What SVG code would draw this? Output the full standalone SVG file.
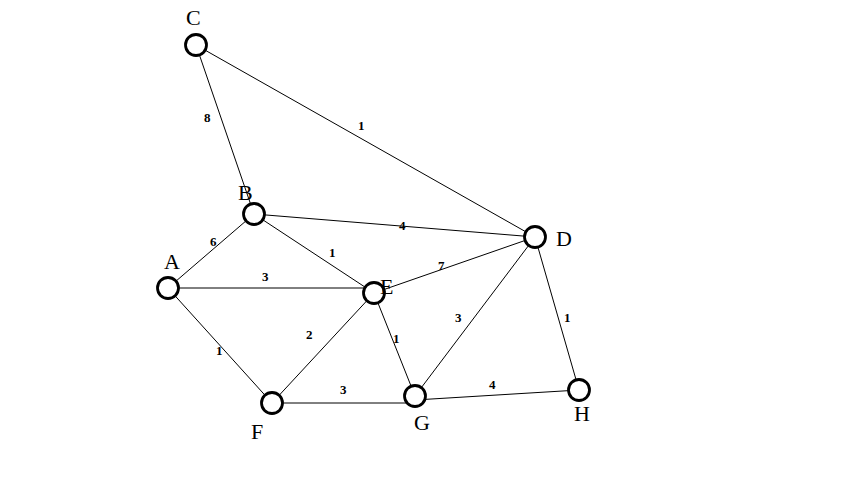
<svg xmlns="http://www.w3.org/2000/svg" width="848" height="488" viewBox="0 0 848 488">
<style>
.n{fill:#fff;stroke:#000;stroke-width:2.8}
.e{stroke:#000;stroke-width:1;fill:none}
.l{font-family:"Liberation Serif",serif;font-size:22px;fill:#000}
.w{font-family:"Liberation Serif",serif;font-size:13px;font-weight:bold;fill:#000}
</style>
<rect width="848" height="488" fill="#fff"/>
<g id="connectors">
<line class="e" x1="196" y1="45" x2="254" y2="214"/>
<line class="e" x1="196" y1="45" x2="535" y2="237"/>
<line class="e" x1="254" y1="214" x2="535" y2="237"/>
<line class="e" x1="254" y1="214" x2="168" y2="288"/>
<line class="e" x1="254" y1="214" x2="374" y2="293"/>
<line class="e" x1="168" y1="288" x2="374" y2="288"/>
<line class="e" x1="168" y1="288" x2="272" y2="403"/>
<line class="e" x1="374" y1="293" x2="535" y2="237"/>
<line class="e" x1="374" y1="293" x2="272" y2="403"/>
<line class="e" x1="374" y1="293" x2="415" y2="396"/>
<line class="e" x1="535" y1="237" x2="415" y2="396"/>
<line class="e" x1="535" y1="237" x2="579" y2="390"/>
<line class="e" x1="272" y1="403" x2="415" y2="403"/>
<line class="e" x1="415" y1="400" x2="579" y2="390"/>
<text class="w" x="204" y="122">8</text>
<text class="w" x="358" y="130">1</text>
<text class="w" x="210" y="246">6</text>
<text class="w" x="399" y="230">4</text>
<text class="w" x="329" y="257">1</text>
<text class="w" x="262" y="281">3</text>
<text class="w" x="438" y="270">7</text>
<text class="w" x="306" y="339">2</text>
<text class="w" x="216" y="355">1</text>
<text class="w" x="393" y="343">1</text>
<text class="w" x="455" y="322">3</text>
<text class="w" x="564" y="322">1</text>
<text class="w" x="340" y="394">3</text>
<text class="w" x="489" y="389">4</text>
</g>
<g id="C"><circle class="n" cx="196" cy="45" r="10.5"/><text class="l" x="186" y="25">C</text></g>
<g id="B"><circle class="n" cx="254" cy="214" r="10.5"/><text class="l" x="238" y="200">B</text></g>
<g id="A"><circle class="n" cx="168" cy="288" r="10.5"/><text class="l" x="164" y="269">A</text></g>
<g id="E"><circle class="n" cx="374" cy="293" r="10.5"/><text class="l" x="380" y="294">E</text></g>
<g id="D"><circle class="n" cx="535" cy="237" r="10.5"/><text class="l" x="556" y="246">D</text></g>
<g id="F"><circle class="n" cx="272" cy="403" r="10.5"/><text class="l" x="251" y="439">F</text></g>
<g id="G"><circle class="n" cx="415" cy="396" r="10.5"/><text class="l" x="414" y="430">G</text></g>
<g id="H"><circle class="n" cx="579" cy="390" r="10.5"/><text class="l" x="574" y="421">H</text></g>
</svg>
